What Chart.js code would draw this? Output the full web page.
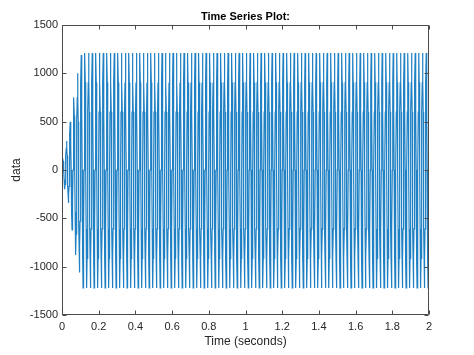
<!DOCTYPE html>
<html>
<head>
<meta charset="utf-8">
<script src="https://cdn.jsdelivr.net/npm/chart.js@4.4.1/dist/chart.umd.min.js"></script>
<style>
html,body{margin:0;padding:0;background:#fff;}
#wrap{width:474px;height:355px;position:relative;}
</style>
</head>
<body>
<div id="wrap"><canvas id="c" width="474" height="355"></canvas></div>
<script>
// ---- data ----
const chartTitle = 'Time Series Plot:';
const xTitle = 'Time (seconds)';
const yTitle = 'data';
const xMin = 0, xMax = 2, xStep = 0.2;
const yMin = -1500, yMax = 1500, yStep = 500;
const duration = 2; // seconds covered by the samples

// samples: start-up oscillation growing, then steady oscillation (~50 Hz)
const rampValues = [
0,60,90,120,90,60,0,-100,-150,-200,-150,-100,
0,150,225,300,225,150,0,-170,-255,-340,-255,-170,
0,250,375,500,375,250,0,-310,-465,-620,-465,-310,
0,375,565,750,565,375,0,-440,-660,-880,-660,-440,
0,500,750,1000,750,500,0,-530,-795,-1060,-795,-530,
0,595,895,1190,895,595,0,-610,-915,-1220,-915,-610
];
const steadyValues = [
0,600,905,1210,905,600,0,-610,-915,-1220,-915,-610,0,600,905,1210,905,600,0,-610,-915,-1220,-915,-610,
0,600,905,1210,905,600,0,-610,-915,-1220,-915,-610,0,600,905,1210,905,600,0,-610,-915,-1220,-915,-610,
0,600,905,1210,905,600,0,-610,-915,-1220,-915,-610,0,600,905,1210,905,600,0,-610,-915,-1220,-915,-610,
0,600,905,1210,905,600,0,-610,-915,-1220,-915,-610,0,600,905,1210,905,600,0,-610,-915,-1220,-915,-610,
0,600,905,1210,905,600,0,-610,-915,-1220,-915,-610,0,600,905,1210,905,600,0,-610,-915,-1220,-915,-610,
0,600,905,1210,905,600,0,-610,-915,-1220,-915,-610,0,600,905,1210,905,600,0,-610,-915,-1220,-915,-610,
0,600,905,1210,905,600,0,-610,-915,-1220,-915,-610,0,600,905,1210,905,600,0,-610,-915,-1220,-915,-610,
0,600,905,1210,905,600,0,-610,-915,-1220,-915,-610,0,600,905,1210,905,600,0,-610,-915,-1220,-915,-610,
0,600,905,1210,905,600,0,-610,-915,-1220,-915,-610,0,600,905,1210,905,600,0,-610,-915,-1220,-915,-610,
0,600,905,1210,905,600,0,-610,-915,-1220,-915,-610,0,600,905,1210,905,600,0,-610,-915,-1220,-915,-610,
0,600,905,1210,905,600,0,-610,-915,-1220,-915,-610,0,600,905,1210,905,600,0,-610,-915,-1220,-915,-610,
0,600,905,1210,905,600,0,-610,-915,-1220,-915,-610,0,600,905,1210,905,600,0,-610,-915,-1220,-915,-610,
0,600,905,1210,905,600,0,-610,-915,-1220,-915,-610,0,600,905,1210,905,600,0,-610,-915,-1220,-915,-610,
0,600,905,1210,905,600,0,-610,-915,-1220,-915,-610,0,600,905,1210,905,600,0,-610,-915,-1220,-915,-610,
0,600,905,1210,905,600,0,-610,-915,-1220,-915,-610,0,600,905,1210,905,600,0,-610,-915,-1220,-915,-610,
0,600,905,1210,905,600,0,-610,-915,-1220,-915,-610,0,600,905,1210,905,600,0,-610,-915,-1220,-915,-610,
0,600,905,1210,905,600,0,-610,-915,-1220,-915,-610,0,600,905,1210,905,600,0,-610,-915,-1220,-915,-610,
0,600,905,1210,905,600,0,-610,-915,-1220,-915,-610,0,600,905,1210,905,600,0,-610,-915,-1220,-915,-610,
0,600,905,1210,905,600,0,-610,-915,-1220,-915,-610,0,600,905,1210,905,600,0,-610,-915,-1220,-915,-610,
0,600,905,1210,905,600,0,-610,-915,-1220,-915,-610,0,600,905,1210,905,600,0,-610,-915,-1220,-915,-610,
0,600,905,1210,905,600,0,-610,-915,-1220,-915,-610,0,600,905,1210,905,600,0,-610,-915,-1220,-915,-610,
0,600,905,1210,905,600,0,-610,-915,-1220,-915,-610,0,600,905,1210,905,600,0,-610,-915,-1220,-915,-610,
0,600,905,1210,905,600,0,-610,-915,-1220,-915,-610,0,600,905,1210,905,600,0,-610,-915,-1220,-915,-610,
0,600,905,1210,905,600,0,-610,-915,-1220,-915,-610,0,600,905,1210,905,600,0,-610,-915,-1220,-915,-610,
0,600,905,1210,905,600,0,-610,-915,-1220,-915,-610,0,600,905,1210,905,600,0,-610,-915,-1220,-915,-610,
0,600,905,1210,905,600,0,-610,-915,-1220,-915,-610,0,600,905,1210,905,600,0,-610,-915,-1220,-915,-610,
0,600,905,1210,905,600,0,-610,-915,-1220,-915,-610,0,600,905,1210,905,600,0,-610,-915,-1220,-915,-610,
0,600,905,1210,905,600,0,-610,-915,-1220,-915,-610,0,600,905,1210,905,600,0,-610,-915,-1220,-915,-610,
0,600,905,1210,905,600,0,-610,-915,-1220,-915,-610,0,600,905,1210,905,600,0,-610,-915,-1220,-915,-610,
0,600,905,1210,905,600,0,-610,-915,-1220,-915,-610,0,600,905,1210,905,600,0,-610,-915,-1220,-915,-610,
0,600,905,1210,905,600,0,-610,-915,-1220,-915,-610,0,600,905,1210,905,600,0,-610,-915,-1220,-915,-610,
0,600,905,1210,905,600,0,-610,-915,-1220,-915,-610,0,600,905,1210,905,600,0,-610,-915,-1220,-915,-610,
0,600,905,1210,905,600,0,-610,-915,-1220,-915,-610,0,600,905,1210,905,600,0,-610,-915,-1220,-915,-610,
0,600,905,1210,905,600,0,-610,-915,-1220,-915,-610,0,600,905,1210,905,600,0,-610,-915,-1220,-915,-610,
0,600,905,1210,905,600,0,-610,-915,-1220,-915,-610,0,600,905,1210,905,600,0,-610,-915,-1220,-915,-610,
0,600,905,1210,905,600,0,-610,-915,-1220,-915,-610,0,600,905,1210,905,600,0,-610,-915,-1220,-915,-610,
0,600,905,1210,905,600,0,-610,-915,-1220,-915,-610,0,600,905,1210,905,600,0,-610,-915,-1220,-915,-610,
0,600,905,1210,905,600,0,-610,-915,-1220,-915,-610,0,600,905,1210,905,600,0,-610,-915,-1220,-915,-610,
0,600,905,1210,905,600,0,-610,-915,-1220,-915,-610,0,600,905,1210,905,600,0,-610,-915,-1220,-915,-610,
0,600,905,1210,905,600,0,-610,-915,-1220,-915,-610,0,600,905,1210,905,600,0,-610,-915,-1220,-915,-610,
0,600,905,1210,905,600,0,-610,-915,-1220,-915,-610,0,600,905,1210,905,600,0,-610,-915,-1220,-915,-610,
0,600,905,1210,905,600,0,-610,-915,-1220,-915,-610,0,600,905,1210,905,600,0,-610,-915,-1220,-915,-610,
0,600,905,1210,905,600,0,-610,-915,-1220,-915,-610,0,600,905,1210,905,600,0,-610,-915,-1220,-915,-610,
0,600,905,1210,905,600,0,-610,-915,-1220,-915,-610,0,600,905,1210,905,600,0,-610,-915,-1220,-915,-610,
0,600,905,1210,905,600,0,-610,-915,-1220,-915,-610,0,600,905,1210,905,600,0,-610,-915,-1220,-915,-610,
0,600,905,1210,905,600,0,-610,-915,-1220,-915,-610,0,600,905,1210,905,600,0,-610,-915,-1220,-915,-610,
0,600,905,1210,905,600,0,-610,-915,-1220,-915,-610,0,600,905,1210,905,600,0,-610,-915,-1220,-915,-610,
0
];

// ---- build chart ----
const allValues = rampValues.concat(steadyValues);
const n = allValues.length;
const points = allValues.map((v, i) => ({x: i * duration / (n - 1), y: v}));

const FONT = '"Liberation Sans", Arial, Helvetica, sans-serif';
const axisColor = '#4a4a4a';
const textColor = '#262626';
const lineColor = '#1f80c4';

const boxPlugin = {
  id: 'matlabBox',
  afterDraw(chart) {
    const {ctx, chartArea: a, scales} = chart;
    const xs = scales.x, ys = scales.y;
    const L = Math.round(a.left) + 0.5, R = Math.round(a.right) - 0.5;
    const T = Math.round(a.top) + 0.5, B = Math.round(a.bottom) - 0.5;
    ctx.save();
    ctx.strokeStyle = axisColor;
    ctx.lineWidth = 1;
    ctx.beginPath();
    ctx.rect(L, T, R - L, B - T);
    const tl = 4;
    xs.ticks.forEach(t => {
      const px = Math.round(xs.getPixelForValue(t.value)) + 0.5;
      ctx.moveTo(px, B); ctx.lineTo(px, B - tl);
      ctx.moveTo(px, T); ctx.lineTo(px, T + tl);
    });
    ys.ticks.forEach(t => {
      const py = Math.round(ys.getPixelForValue(t.value)) + 0.5;
      ctx.moveTo(L, py); ctx.lineTo(L + tl, py);
      ctx.moveTo(R, py); ctx.lineTo(R - tl, py);
    });
    ctx.stroke();
    // texts
    ctx.fillStyle = '#000';
    ctx.textAlign = 'center';
    ctx.textBaseline = 'middle';
    ctx.font = 'bold 11px ' + FONT;
    ctx.fillText(chartTitle, (a.left + a.right) / 2, a.top - 8);
    ctx.fillStyle = textColor;
    ctx.font = '12px ' + FONT;
    ctx.fillText(xTitle, (a.left + a.right) / 2, a.bottom + 27);
    ctx.translate(16.5, (a.top + a.bottom) / 2);
    ctx.rotate(-Math.PI / 2);
    ctx.fillText(yTitle, 0, 0);
    ctx.restore();
  }
};

new Chart(document.getElementById('c'), {
  type: 'line',
  data: {
    datasets: [{
      data: points,
      borderColor: lineColor,
      borderWidth: 1.2,
      pointRadius: 0,
      tension: 0,
      fill: false
    }]
  },
  options: {
    responsive: false,
    animation: false,
    parsing: false,
    normalized: true,
    layout: {padding: {left: 0, right: 45, top: 25, bottom: 0}},
    plugins: {legend: {display: false}, tooltip: {enabled: false}, title: {display: false}},
    scales: {
      x: {
        type: 'linear', min: xMin, max: xMax,
        grid: {display: false, drawTicks: false},
        border: {display: false},
        ticks: {stepSize: xStep, color: textColor, font: {size: 11, family: FONT}, padding: 5, maxRotation: 0, autoSkip: false,
          callback: v => String(Math.round(v * 10) / 10)},
        afterFit: s => { s.height = 40; }
      },
      y: {
        type: 'linear', min: yMin, max: yMax,
        grid: {display: false, drawTicks: false},
        border: {display: false},
        ticks: {stepSize: yStep, color: textColor, font: {size: 11, family: FONT}, padding: 4, autoSkip: false,
          callback: v => String(Math.round(v))},
        afterFit: s => { s.width = 62; }
      }
    }
  },
  plugins: [boxPlugin]
});
</script>
</body>
</html>
